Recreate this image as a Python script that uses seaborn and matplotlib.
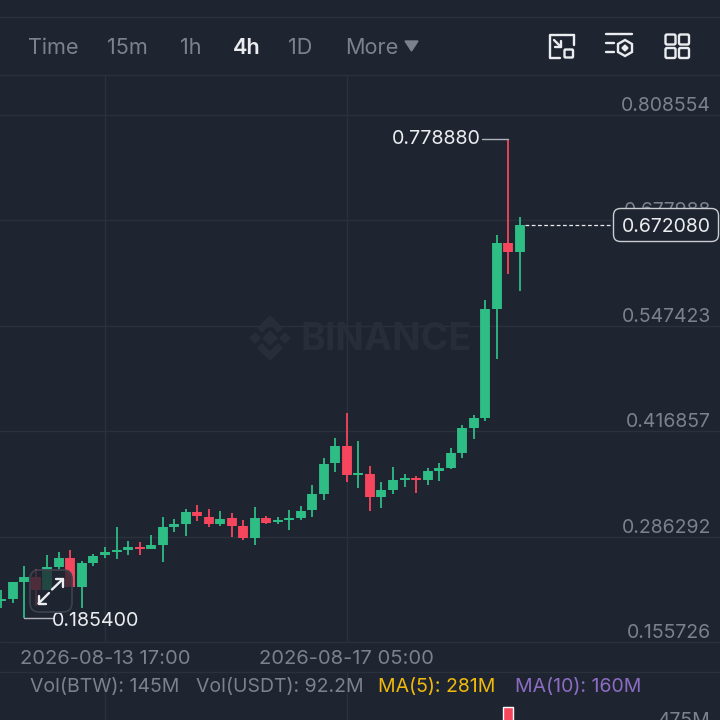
import matplotlib
matplotlib.use("Agg")
import matplotlib.pyplot as plt
from matplotlib.patches import FancyBboxPatch, Polygon
import pandas as pd
import seaborn as sns

BG = "#1f2530"
GRID = "#2b313b"
GREEN = "#2ebd85"
RED = "#f6465d"
GRAY = "#7c828d"
LIGHT = "#eaecef"

opens = [.2065,.2090,.2300,.2362,.2201,.2486,.2598,.2238,.2536,.2635,.2678,.2697,.2734,.2709,.2759,.2982,
         .3019,.3167,.3106,.3019,.3093,.2994,.2845,.3093,.3044,.3068,.3093,.3192,.3390,.3774,.3985,.3626,
         .3638,.3353,.3440,.3564,.3589,.3564,.3675,.3713,.3898,.4208,.4332,.5682,.6500,.6388]
highs = [.2201,.2300,.2498,.2461,.2635,.2672,.2697,.2560,.2647,.2734,.2982,.2808,.2796,.2883,.3106,.3081,
         .3205,.3254,.3205,.3180,.3155,.3068,.3229,.3118,.3106,.3192,.3242,.3502,.3836,.4084,.4394,.4047,
         .3737,.3539,.3725,.3638,.3613,.3713,.3774,.3960,.4245,.4369,.5794,.6599,.778880,.6822]
lows = [.1978,.2040,.185400,.2003,.2201,.2449,.2238,.1978,.2498,.2598,.2585,.2635,.2635,.2709,.2548,.2920,
        .2870,.3056,.2982,.2994,.2858,.2821,.2759,.3019,.3019,.2944,.3068,.3106,.3316,.3663,.3539,.3465,
        .3180,.3217,.3390,.3477,.3403,.3502,.3551,.3700,.3836,.4072,.4295,.5063,.6116,.5905]
closes = [.2090,.2300,.2362,.2201,.2486,.2598,.2238,.2536,.2622,.2672,.2697,.2734,.2709,.2759,.2982,.3019,
          .3167,.3118,.3019,.3081,.2994,.2845,.3093,.3031,.3068,.3093,.3180,.3390,.3762,.3985,.3626,.3651,
          .3353,.3440,.3564,.3589,.3564,.3675,.3713,.3898,.4208,.4332,.5682,.6500,.6388,.672080]
price_ticks = [.808554, .677988, .547423, .416857, .286292, .155726]
price_labels = ["0.808554", "0.677988", "0.547423", "0.416857", "0.286292", "0.155726"]
date_positions = [9, 30]
date_labels = ["2026-08-13 17:00", "2026-08-17 05:00"]
last_price = 0.672080
high_price = 0.778880
low_price = 0.185400
periods = ["Time", "15m", "1h", "4h", "1D", "More"]
volume_index = [44]
volume_values = [838]
volume_ticks = [475]
volume_labels = ["475M"]

sns.set_theme(style="dark", rc={"figure.facecolor": BG, "axes.facecolor": BG, "axes.edgecolor": BG})
plt.rcParams["font.family"] = ["Inter", "DejaVu Sans"]

idx = list(range(len(opens)))
rows = []
for i in idx:
    d = "up" if closes[i] >= opens[i] else "down"
    rows.append((i, lows[i], d, "wick"))
    rows.append((i, highs[i], d, "wick"))
    rows.append((i, min(opens[i], closes[i]), d, "body"))
    rows.append((i, max(opens[i], closes[i]), d, "body"))
df = pd.DataFrame(rows, columns=["i", "price", "dir", "part"])
pal = {"up": GREEN, "down": RED}

fig = plt.figure(figsize=(7.2, 7.2), dpi=100, facecolor=BG)
STEP = 11.52
XLIM = (9 - 105 / STEP, 9 + 615 / STEP)

ax = fig.add_axes([0, 78 / 720, 1, 567 / 720])
vol = fig.add_axes([0, -40 / 720, 1, 88 / 720])
ui = fig.add_axes([0, 0, 1, 1], zorder=10)
ui.set_xlim(0, 720); ui.set_ylim(720, 0); ui.axis("off"); ui.patch.set_alpha(0)

for part, lw in (("wick", 1.3), ("body", 7.1)):
    sns.lineplot(data=df[df.part == part], x="i", y="price", hue="dir", units="i", estimator=None,
                 palette=pal, linewidth=lw, solid_capstyle="butt", legend=False, ax=ax, sort=False, zorder=3)
ax.set_xlim(*XLIM)
ax.set_ylim(0.155726, 0.155726 + 567 * 0.0012388)
ax.set_xlabel(""); ax.set_ylabel("")
ax.set_xticks(date_positions, date_labels, color=GRAY, fontsize=14.5)
ax.set_yticks(price_ticks, price_labels, color=GRAY, fontsize=14)
ax.yaxis.tick_right()
ax.tick_params(axis="x", length=0, pad=6)
ax.tick_params(axis="y", length=0, pad=-6.5)
for t in ax.get_yticklabels():
    t.set_ha("right"); t.set_va("bottom")
ax.grid(True, color=GRID, linewidth=1)
for s in ax.spines.values():
    s.set_visible(False)

# volume pane
sns.barplot(x=volume_index, y=volume_values, native_scale=True, color=RED, saturation=1, width=0.85, ax=vol, legend=False)
vol.set_xlim(*XLIM); vol.set_ylim(0, 1390)
vol.set_xticks(date_positions, ["", ""])
vol.set_yticks(volume_ticks, volume_labels, color=GRAY, fontsize=14)
vol.yaxis.tick_right()
vol.tick_params(axis="both", length=0)
vol.tick_params(axis="y", pad=-6.5)
for t in vol.get_yticklabels():
    t.set_ha("right"); t.set_va("bottom")
vol.grid(True, axis="x", color=GRID, linewidth=1)
vol.set_xlabel(""); vol.set_ylabel("")
for s in vol.spines.values():
    s.set_visible(False)

# separators
for y in (17, 75, 642, 672):
    ui.plot([0, 720], [y, y], color=GRID, lw=1, clip_on=False)

# toolbar
for label, x in zip(periods, (28, 107, 180, 233, 288, 345)):
    active = label == "4h"
    ui.text(x, 47.5, label, color=LIGHT if active else GRAY, fontsize=15.6, va="center", ha="left",
            fontweight="semibold" if active else "normal")
ui.add_patch(Polygon([(405, 41), (418, 41), (411.5, 51)], color=GRAY))
ic = dict(color=LIGHT, lw=1.7, solid_capstyle="round")
ui.plot([566, 549.5, 549.5, 560], [35, 35, 58, 58], **ic)
ui.plot([573.5, 573.5], [35, 45], **ic)
ui.plot([566, 573.5], [35, 35], **ic)
ui.add_patch(FancyBboxPatch((564.5, 49.5), 8.5, 8, boxstyle="round,pad=0,rounding_size=1", fill=False, ec=LIGHT, lw=1.7))
ui.plot([554, 561], [40, 47], **ic)
ui.plot([555, 561, 561], [46.5, 46.5, 41], **ic)
ui.plot([606, 632], [34, 34], **ic)
ui.plot([606, 614], [43, 43], **ic)
ui.plot([606, 614], [52, 52], **ic)
ui.add_patch(Polygon([(625, 40), (632, 44), (632, 52), (625, 56), (618, 52), (618, 44)], fill=False, ec=LIGHT, lw=1.7))
ui.add_patch(Polygon([(625, 45), (628, 48), (625, 51), (622, 48)], color=LIGHT))
for x0 in (665.5, 679):
    for y0 in (34.5, 48):
        ui.add_patch(FancyBboxPatch((x0, y0), 10, 10, boxstyle="round,pad=0,rounding_size=1.5", fill=False, ec=LIGHT, lw=1.7))

# watermark, beneath the candles
WM = "#282e39"
ax.text(386, 340.5, "BINANCE", color=WM, fontsize=27, fontweight="bold", ha="center", va="center",
        transform=ui.transData, zorder=1)
for poly in ([(270, 331), (277, 338), (270, 345), (263, 338)],
             [(255, 333), (260, 338), (255, 343), (250, 338)],
             [(285, 333), (290, 338), (285, 343), (280, 338)],
             [(270, 316), (282, 328), (278, 332), (270, 324), (262, 332), (258, 328)],
             [(270, 360), (282, 348), (278, 344), (270, 352), (262, 344), (258, 348)]):
    ax.add_patch(Polygon(poly, color=WM, transform=ui.transData, zorder=1))

# high / low callouts
ax.plot([41.7, 44], [high_price, high_price], color="#aeb2b8", lw=1, zorder=4)
ax.text(41.6, high_price, f"{high_price:.6f}", color=LIGHT, fontsize=14.2, ha="right", va="center", zorder=4)
ax.plot([2, 4.5], [low_price, low_price], color="#aeb2b8", lw=1, zorder=4)
ax.text(4.4, low_price - 0.0035, f"{low_price:.6f}", color=LIGHT, fontsize=14.2, ha="left", va="center", zorder=4)

# last price marker
ax.plot([45.5, 52.8], [last_price, last_price], color=LIGHT, lw=0.9, ls=(0, (3, 2)), zorder=4)
ui.add_patch(FancyBboxPatch((613.5, 208.5), 105, 33, boxstyle="round,pad=0,rounding_size=7", fc=BG, ec="#c9ccd1", lw=1))
ui.text(711, 227.5, f"{last_price:.6f}", color=LIGHT, fontsize=14, ha="right", va="center")

# expand button
ui.add_patch(FancyBboxPatch((30, 570), 42, 42, boxstyle="round,pad=0,rounding_size=9", fc=BG, alpha=0.78, ec="none"))
ui.add_patch(FancyBboxPatch((30, 570), 42, 42, boxstyle="round,pad=0,rounding_size=9", fill=False, ec="#3b414c", lw=1.3))
arr = dict(color=LIGHT, lw=1.7, solid_capstyle="round")
ui.plot([52, 63], [589.5, 579], **arr)
ui.plot([55.5, 63, 63], [579, 579, 586.5], **arr)
ui.plot([49, 38.5], [593, 603.5], **arr)
ui.plot([46, 38.5, 38.5], [603.5, 603.5, 596], **arr)

# volume legend
for label, x, c in (("Vol(BTW): 145M", 30, GRAY), ("Vol(USDT): 92.2M", 196, GRAY),
                    ("MA(5): 281M", 378, "#f0b90b"), ("MA(10): 160M", 515, "#8d6cc4")):
    ui.text(x, 687, label, color=c, fontsize=14, ha="left", va="center")

fig.savefig("out.png", dpi=100, facecolor=BG)
